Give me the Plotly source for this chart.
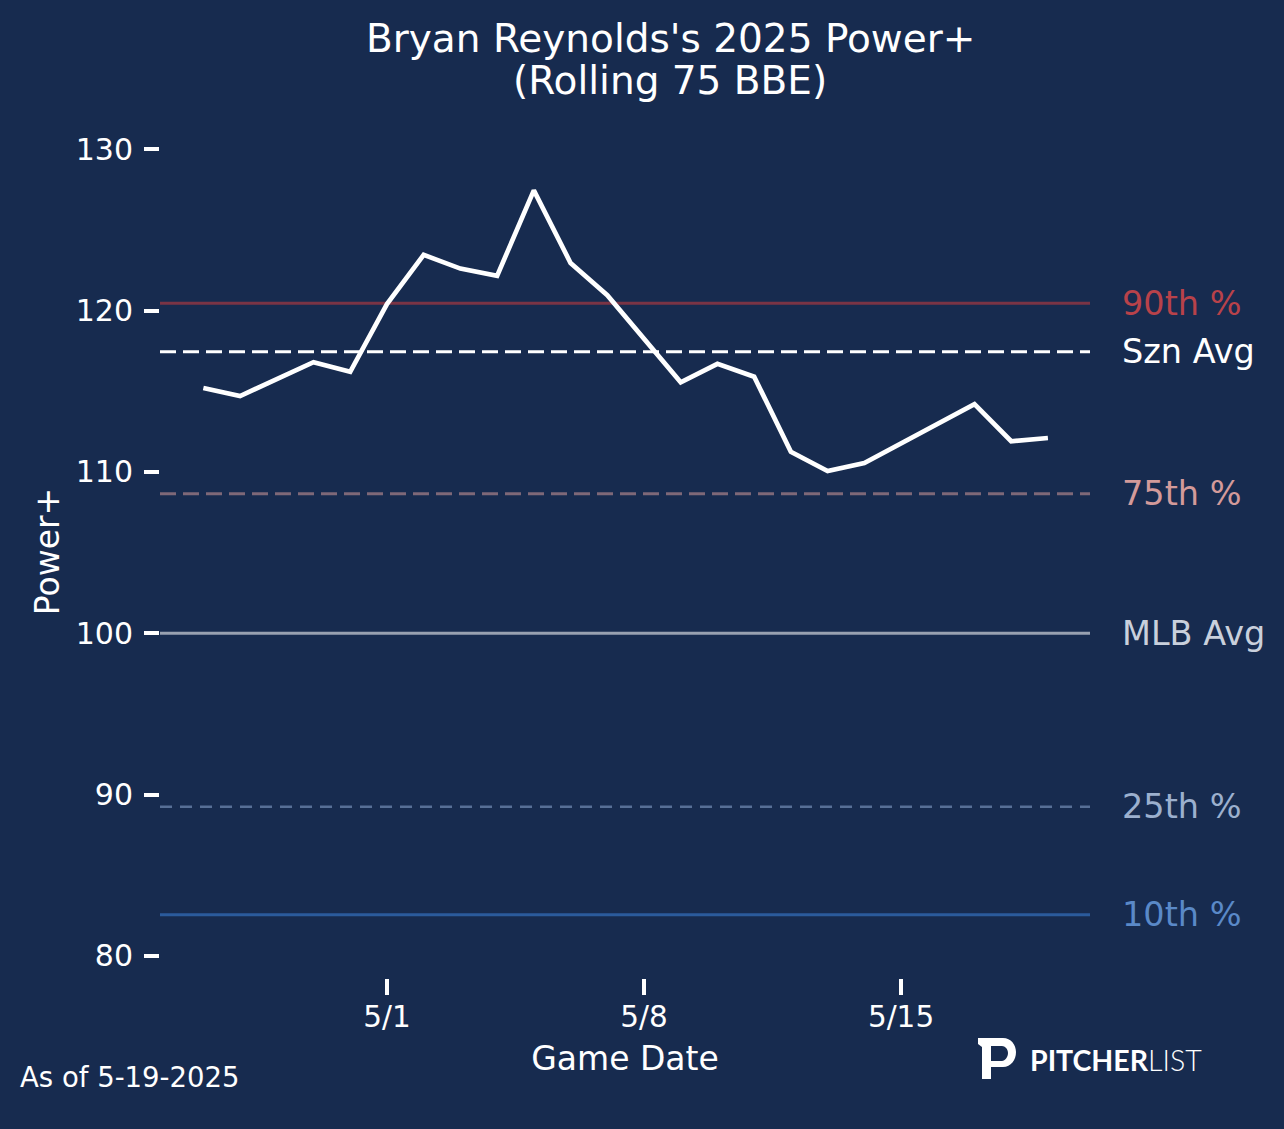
import plotly.graph_objects as go

# ---------------- data ----------------
dates = ["2025-04-26", "2025-04-27", "2025-04-29", "2025-04-30", "2025-05-01",
         "2025-05-02", "2025-05-03", "2025-05-04", "2025-05-05", "2025-05-06",
         "2025-05-07", "2025-05-09", "2025-05-10", "2025-05-11", "2025-05-12",
         "2025-05-13", "2025-05-14", "2025-05-15", "2025-05-16", "2025-05-17",
         "2025-05-18", "2025-05-19"]
power_plus = [115.2, 114.7, 116.8, 116.2, 120.4,
              123.45, 122.6, 122.15, 127.45, 122.95,
              120.95, 115.55, 116.7, 115.9, 111.25,
              110.05, 110.55, 111.75, 113.0, 114.2,
              111.9, 112.1]

ref_labels = ["90th %", "Szn Avg", "75th %", "MLB Avg", "25th %", "10th %"]
ref_values = [120.45, 117.45, 108.65, 100.0, 89.25, 82.55]

x_tick_vals = ["2025-05-01", "2025-05-08", "2025-05-15"]
x_tick_text = ["5/1", "5/8", "5/15"]
y_tick_vals = [80, 90, 100, 110, 120, 130]

# ---------------- styling ----------------
BG = "#172B4F"
FONT = "DejaVu Sans"
ref_line_colors = ["#7A3445", "#FFFFFF", "#7E6878", "#98A1B0", "#576F96", "#2B5B9C"]
ref_text_colors = ["#B8424A", "#FFFFFF", "#D39A9A", "#C9D0DC", "#9CB0CE", "#5A89C8"]
ref_dash = ["solid", "16px,7px", "16px,7px", "solid", "12px,8px", "solid"]
ref_width = [3, 3, 3, 3, 2.5, 3]

W, H = 1284, 1129
L, R, T, B = 160, 194, 125, 151
PW, PH = W - L - R, H - T - B


def px_x(x):
    return (x - L) / PW


def px_y(y):
    return (H - B - y) / PH


def P(x, y):
    return f"{px_x(x):.5f},{px_y(y):.5f}"


fig = go.Figure()

fig.add_trace(go.Scatter(
    x=dates, y=power_plus, mode="lines",
    line=dict(color="white", width=4.7),
    hoverinfo="skip", showlegend=False,
))

shapes = []
annotations = []
for lab, val, lc, tc, dsh, lw in zip(ref_labels, ref_values, ref_line_colors,
                                      ref_text_colors, ref_dash, ref_width):
    shapes.append(dict(type="line", xref="paper", yref="y", x0=0, x1=1, y0=val, y1=val,
                       line=dict(color=lc, width=lw, dash=dsh), layer="below"))
    annotations.append(dict(xref="paper", yref="y", x=px_x(1120), y=val, text=lab,
                            showarrow=False, xanchor="left", yanchor="middle",
                            font=dict(family=FONT, size=33.5, color=tc)))

# title lines
annotations.append(dict(xref="paper", yref="paper", x=px_x(670), y=px_y(38),
                        text="Bryan Reynolds's 2025 Power+", showarrow=False,
                        xanchor="center", yanchor="middle",
                        font=dict(family=FONT, size=39, color="white")))
annotations.append(dict(xref="paper", yref="paper", x=px_x(670), y=px_y(80),
                        text="(Rolling 75 BBE)", showarrow=False,
                        xanchor="center", yanchor="middle",
                        font=dict(family=FONT, size=39, color="white")))
# footnote
annotations.append(dict(xref="paper", yref="paper", x=px_x(18), y=px_y(1077),
                        text="As of 5-19-2025", showarrow=False,
                        xanchor="left", yanchor="middle",
                        font=dict(family=FONT, size=27.5, color="white")))
# logo text
annotations.append(dict(xref="paper", yref="paper", x=px_x(1028), y=px_y(1060),
                        text="<b>PITCHER</b><span style=\"font-weight:300\">LIST</span>",
                        showarrow=False, xanchor="left", yanchor="middle",
                        font=dict(family="Lato", size=28.5, color="white")))

# logo icon (P)
logo_path = (
    f"M {P(978,1038)} L {P(1003,1038)} "
    f"C {P(1011,1038)} {P(1016,1045)} {P(1016,1052)} "
    f"C {P(1016,1060)} {P(1011,1067)} {P(1003,1067)} "
    f"L {P(991,1067)} L {P(991,1079)} L {P(982,1079)} L {P(982,1047)} "
    f"L {P(978,1044)} Z "
    f"M {P(991,1046)} L {P(991,1061)} L {P(1002,1061)} "
    f"C {P(1005,1061)} {P(1008,1057)} {P(1008,1053)} "
    f"C {P(1008,1049)} {P(1005,1046)} {P(1002,1046)} Z"
)
shapes.append(dict(type="path", xref="paper", yref="paper", path=logo_path,
                   fillcolor="white", line=dict(width=0), layer="above"))

fig.update_layout(
    width=W, height=H,
    margin=dict(l=L, r=R, t=T, b=B, pad=0),
    paper_bgcolor=BG, plot_bgcolor=BG,
    font=dict(family=FONT, color="white"),
    shapes=shapes, annotations=annotations,
    showlegend=False,
    xaxis=dict(
        type="date",
        range=["2025-04-24 19:40", "2025-05-20 03:30"],
        tickvals=x_tick_vals, ticktext=x_tick_text,
        ticks="outside", ticklen=16, tickwidth=3.5, tickcolor="white",
        tickfont=dict(family=FONT, size=29.5, color="white"),
        ticklabelstandoff=-3,
        showgrid=False, zeroline=False, showline=False,
        title=dict(text="Game Date", font=dict(family=FONT, size=33, color="white"),
                   standoff=13),
    ),
    yaxis=dict(
        range=[78.63, 131.5],
        tickvals=y_tick_vals,
        ticks="outside", ticklen=15, tickwidth=3.5, tickcolor="white",
        tickfont=dict(family=FONT, size=30, color="white"),
        ticklabelstandoff=5,
        showgrid=False, zeroline=False, showline=False,
        title=dict(text="Power+", font=dict(family=FONT, size=33, color="white"),
                   standoff=6),
    ),
)

fig.write_html("out.html")
